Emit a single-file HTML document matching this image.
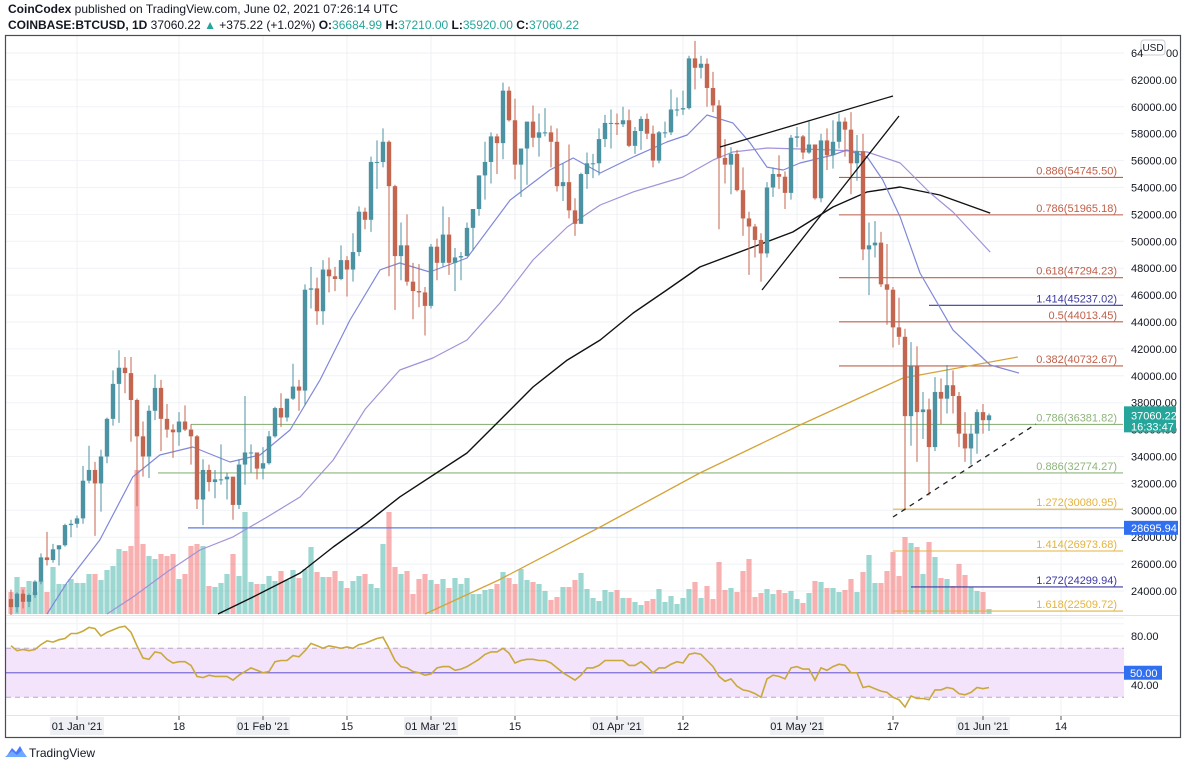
<!DOCTYPE html>
<html><head><meta charset="utf-8">
<style>
html,body{margin:0;padding:0;background:#fff;}
body{width:1186px;height:768px;overflow:hidden;font-family:"Liberation Sans",sans-serif;}
svg{display:block}
text{font-family:"Liberation Sans",sans-serif;}
</style></head>
<body>
<svg id="chart" width="1186" height="768" viewBox="0 0 1186 768" xmlns="http://www.w3.org/2000/svg">
  <rect x="0" y="0" width="1186" height="768" fill="#ffffff"/>
  <text x="8" y="13" font-size="12" fill="#131722"><tspan font-weight="bold">CoinCodex</tspan> published on TradingView.com, June 02, 2021 07:26:14 UTC</text>
  <text x="8" y="29" font-size="12" fill="#131722"><tspan font-weight="bold">COINBASE:BTCUSD, 1D</tspan>  37060.22 <tspan fill="#26a69a">▲</tspan> +375.22 (+1.02%) <tspan font-weight="bold">O:</tspan><tspan fill="#26a69a">36684.99</tspan> <tspan font-weight="bold">H:</tspan><tspan fill="#26a69a">37210.00</tspan> <tspan font-weight="bold">L:</tspan><tspan fill="#26a69a">35920.00</tspan> <tspan font-weight="bold">C:</tspan><tspan fill="#26a69a">37060.22</tspan></text>
  <defs>
    <clipPath id="priceClip"><rect x="6" y="36" width="1118" height="579"/></clipPath>
    <clipPath id="rsiClip"><rect x="6" y="617" width="1118" height="97"/></clipPath>
  </defs>
  <g id="grid"></g>
  <g id="rsiPane" clip-path="url(#rsiClip)"></g>
  <g id="volume" clip-path="url(#priceClip)"></g>
  <g id="fibs"></g>
  <g id="mas" clip-path="url(#priceClip)"></g>
  <g id="candles" clip-path="url(#priceClip)"></g>
  <g id="trend">
    <line x1="720" y1="147" x2="893" y2="96" stroke="#111" stroke-width="1.3"/>
    <line x1="762" y1="290" x2="899" y2="116" stroke="#111" stroke-width="1.3"/>
    <line x1="893" y1="517" x2="1036" y2="424" stroke="#222" stroke-width="1.3" stroke-dasharray="5,5"/>
  </g>
  <g id="axis"></g>
  <g id="timeaxis"></g>
  <rect x="5.5" y="35.5" width="1175" height="702" fill="none" stroke="#4a4c55" stroke-width="1.2"/>
  <line x1="6" y1="615.5" x2="1180" y2="615.5" stroke="#e0e3eb"/>
  <line x1="6" y1="715.5" x2="1180" y2="715.5" stroke="#e0e3eb"/>
  <g>
    <path d="M6 757 L12 748 L16 752 L20 746 L26 757 Z" fill="#2962ff" opacity="0.85"/>
    <path d="M5 757 L12 751 L17 755 L22 750 L27 757 Z" fill="#6ea8ff"/>
    <text x="29" y="757" font-size="12" fill="#131722">TradingView</text>
  </g>
</svg>
<script>
// ---- data ----
const startDay = -11; // Dec 21 2020 relative to Jan 1 2021
const closes = [22800,23800,23200,23700,24700,26500,26300,27100,27400,28900,29000,
29400,32200,33000,32000,34000,36800,39400,40600,40200,38200,35500,34000,37400,39100,36800,36000,35800,36600,36000,35500,30800,33000,32100,32300,32300,32500,30400,33400,34300,34300,33100,
33500,35500,37600,36900,38300,39200,38900,46400,46500,44800,47900,47400,47200,48600,47900,49200,52200,51600,55900,55900,57400,54100,48900,49700,47000,46300,46200,45200,
49600,48400,50500,48400,48800,48900,51000,52400,54900,55900,57800,57300,61200,59000,55700,56900,58900,57700,58100,58100,57400,54100,54400,52300,51300,55000,55800,55800,57600,58800,58800,
58700,59000,57100,58200,59100,58000,56000,58100,58100,59800,59800,59900,63600,62900,63200,61400,60100,56200,55700,56500,53800,51700,51100,50100,49100,54000,55000,54800,53600,57700,
57800,56600,57200,53200,57500,56400,57400,58900,58300,55800,56700,49400,49700,49900,46800,46400,43600,42900,37000,40700,37300,37500,34700,38800,38300,39300,38500,35700,34600,35700,37300,
36700,37060];
const opens = [23400,22800,23800,23200,23700,24700,26500,26300,27100,27400,28900,
29000,29400,32200,33000,32000,34000,36800,39400,40600,40200,38200,35500,34000,37400,39100,36800,36000,35800,36600,36000,35500,30800,33000,32100,32300,32300,32500,30400,33400,34300,34300,
33100,33500,35500,37600,36900,38300,39200,38900,46400,46500,44800,47900,47400,47200,48600,47900,49200,52200,51600,55900,55900,57400,54100,48900,49700,47000,46300,46200,
45200,49600,48400,50500,48400,48800,48900,51000,52400,54900,55900,57800,57300,61200,59000,55700,56900,58900,57700,58100,58100,57400,54100,54400,52300,51300,55000,55800,55800,57600,58800,
58800,58700,59000,57100,58200,59100,58000,56000,58100,58100,59800,59800,59900,63600,62900,63200,61400,60100,56200,55700,56500,53800,51700,51100,50100,49100,54000,55000,54800,53600,
57700,57800,56600,57200,53200,57500,56400,57400,58900,58300,55800,56700,49400,49700,49900,46800,46400,43600,42900,37000,40700,37300,37500,34700,38800,38300,39300,38500,35700,34600,35700,
37300,36700];
const highs = [24100,23900,24100,23800,24800,26800,28400,27500,27400,29000,29300,
29600,33300,34800,33600,34500,36900,40400,41900,41400,41400,38300,36600,37800,40100,39700,37900,36400,37300,37800,36400,35600,33800,33400,33000,34900,32800,32500,33800,38500,34900,34300,
34700,35900,37700,38700,38300,40900,39700,46800,48100,47300,48600,48800,48100,49700,48900,50600,52600,52500,56300,57500,58400,57500,54200,51400,52000,48400,48300,46600,
49800,50200,52600,51800,49500,49200,51400,52400,54900,57400,58100,58000,61800,61500,60600,56900,58900,60100,59500,59900,58600,58400,55800,57200,53200,55100,56600,56500,58400,59400,59800,
59500,60000,59800,58500,59300,59500,58600,58200,58900,61300,60700,61200,63800,64900,63800,63600,62600,60500,57600,57000,56800,55500,52200,51300,50600,54400,55500,56400,55200,57900,
58500,57900,58900,57200,58000,58400,59000,59500,59200,59600,57900,58000,51400,51500,50700,49800,46600,45800,43500,42500,42200,38800,38300,39900,39800,40800,40400,38800,37300,36400,37500,
37900,37200];
const lows = [22000,22400,22700,22800,23500,24500,25900,26100,25900,27300,28000,
28700,29000,32000,28100,29900,33500,36300,36500,38700,35100,30300,32500,32400,36700,34400,35400,33900,34800,35900,33400,30100,28900,31400,30900,31900,30800,29300,30100,31900,32800,32300,
32300,33400,35400,36200,36600,38200,37400,37800,45000,43800,43800,46200,46300,47100,45900,47000,48900,50900,50700,53900,55500,47400,44900,47100,46700,44200,45100,43000,
45000,47100,48100,47500,46300,47100,48900,49300,51900,53100,54300,55000,56100,58900,54600,53300,54200,57000,56300,57800,55500,53700,53000,51700,50400,51300,53900,54700,54900,57000,56900,
57900,58500,57000,56500,56800,57600,55500,55800,57700,57900,59300,59400,59800,61300,62100,60000,59600,50900,54300,53500,53700,50400,47500,48800,47000,48800,53300,53900,52400,53100,
57000,56100,56500,53100,52900,55300,55400,56900,56300,53500,54500,48600,46000,48800,46600,43800,42100,42300,30000,34800,33600,35300,31100,34400,36400,37200,37200,34700,33600,33400,34200,
35700,35900];
const volumes = [22,37,27,33,22,33,22,47,30,30,35,
31,31,40,40,34,44,48,65,63,68,144,70,58,55,60,58,60,35,40,68,70,68,28,27,31,40,60,38,102,32,30,
30,38,33,43,34,44,36,45,67,42,37,37,43,33,26,33,38,40,30,26,70,102,47,40,43,20,35,40,
34,30,35,26,36,30,36,20,20,24,25,30,42,36,30,45,34,32,30,23,14,17,27,27,34,41,25,16,13,24,22,
24,16,16,12,9,13,15,25,12,18,10,16,25,32,16,28,15,52,24,26,22,43,55,17,21,25,20,24,21,23,
15,11,21,33,32,26,26,22,24,35,22,42,59,31,31,43,62,38,77,71,67,40,72,57,36,35,28,50,39,27,23,
22,5];
const rsiValues = [72,68,69,68,69,73,76,75,77,78,82,82,84,87,86,80,83,85,87,88,83,72,62,61,67,66,61,58,59,59,56,47,46,48,47,47,47,44,48,51,54,52,50,51,59,60,60,64,63,68,74,72,70,72,71,70,71,70,73,74,76,78,79,70,60,55,54,51,50,48,49,54,55,55,52,53,55,58,61,65,67,67,70,66,58,60,61,61,60,60,58,54,50,47,44,48,54,54,56,60,60,60,60,56,56,59,55,50,54,54,57,59,58,65,66,65,60,55,47,43,45,39,36,35,33,30,45,48,47,45,54,55,53,53,44,54,52,55,57,56,50,50,38,39,37,35,34,30,28,22,31,29,29,28,36,36,38,37,33,32,34,38,37,38];
// moving averages: [day, price] pairs
const ma20Days = [-5,-1.7,3.8,9.3,13.8,19.3,25.5,30.5,35.5,40.5,45.5,50.5,53.8,58.8,65,72.2,78.8,82.7,87.2,92.7,98.3,101.7,105,109.3,112.2,115,117.7,120.5,126,128.3,131.7,134.3,137.2,140.5,146,152.2,157];
const ma20Vals = [22290,24600,27790,32480,34110,34710,33590,34110,35970,39690,44150,47870,48390,47720,48760,53070,55300,56190,55080,56270,57380,57900,59390,58800,57310,55520,55300,55820,56420,56790,56270,54560,51800,47640,43400,40800,40200];
const ma50Days = [5,9.3,15,20.5,26,31.7,37.2,42.7,48,53.8,59.3,65,70.5,76,81.7,87.2,92.7,101,106,109.3,115,126,131.7,137.2,142.2,146,152.2];
const ma50Vals = [22290,23550,25410,27050,28020,29500,31000,33740,37500,40430,41320,42660,45410,48610,51060,52700,53670,54780,56040,56640,56940,56790,56640,55820,53590,52180,49200];
const ma100Days = [23.5,29.3,37.2,42.7,48.3,53.8,65,70.5,76,81.7,87.2,92.7,98.3,103.8,112.2,119.3,126,131.7,137.2,143.8,152.2];
const ma100Vals = [22290,23550,25340,27270,29060,31000,34260,36710,39170,41170,42660,44670,46380,48090,49500,50690,52550,53670,54040,53440,52100];
const ma200Days = [58,70.3,87.2,103.8,120.5,137.7,156.8];
const ma200Vals = [22290,24820,28760,32770,36340,39840,41400];
const fibLabels = ["0.886(54745.50)","0.786(51965.18)","0.618(47294.23)","1.414(45237.02)","0.5(44013.45)","0.382(40732.67)","0.786(36381.82)","0.886(32774.27)","1.272(30080.95)","1.414(26973.68)","1.272(24299.94)","1.618(22509.72)"];
const fibValues = [54745.50,51965.18,47294.23,45237.02,44013.45,40732.67,36381.82,32774.27,30080.95,26973.68,24299.94,22509.72];
const fibStartDays = [127,127,127,142,127,127,19,13.5,136,136,139,136];
const fibColors = ["#c0604a","#c0604a","#c0604a","#3b3aa0","#c0604a","#c0604a","#8fb47c","#8fb47c","#e3b341","#e3b341","#3b3aa0","#e3b341"];
const priceTicks = [62000,60000,58000,56000,54000,52000,50000,48000,46000,44000,42000,40000,38000,36000,34000,32000,30000,28000,26000,24000];
const rsiTicks = [80,40];
const timeLabels = ["01 Jan '21","18","01 Feb '21","15","01 Mar '21","15","01 Apr '21","12","01 May '21","17","01 Jun '21","14"];
const timeDays = [0,17,31,45,59,73,90,101,120,136,151,164];
const hLineValue = 28695.94;
const lastPrice = 37060.22;

// ---- scales ----
const NS = "http://www.w3.org/2000/svg";
const X = d => 77 + 6 * d;
const Y = p => 53 + (64000 - p) * 0.01345;
const RY = v => 636 + (80 - v) * 1.225;
function mk(tag, attrs, parent){const e=document.createElementNS(NS,tag);for(const k in attrs)e.setAttribute(k,attrs[k]);parent.appendChild(e);return e;}
const grid=document.getElementById('grid'), vol=document.getElementById('volume'), cg=document.getElementById('candles');
const mas=document.getElementById('mas'), fibs=document.getElementById('fibs'), axis=document.getElementById('axis');
const ta=document.getElementById('timeaxis'), rp=document.getElementById('rsiPane');

// grid
priceTicks.concat([64000,22000]).forEach(p=>{const l=mk('line',{x1:6,x2:1124,y1:Y(p),y2:Y(p),stroke:'#f0f2f6'},grid);

});
timeDays.forEach(d=>{const l=mk('line',{x1:X(d),x2:X(d),y1:36,y2:715,stroke:'#eef0f4'},grid);

});
[60,70,80,90].forEach(v=>{const l=mk('line',{x1:6,x2:1124,y1:RY(v),y2:RY(v),stroke:'#f0f2f6'},grid);

});

// RSI
const band=mk('rect',{x:6,y:RY(70),width:1118,height:RY(30)-RY(70),fill:'#f3e3fb'},rp);


[70,30].forEach(v=>{const l=mk('line',{x1:6,x2:1124,y1:RY(v),y2:RY(v),stroke:'#b9a6c4','stroke-dasharray':'5,4'},rp);

});
const mid=mk('line',{x1:6,x2:1124,y1:RY(50),y2:RY(50),stroke:'#7b6fd6','stroke-width':1.2},rp);


const rpts=rsiValues.map((v,i)=>X(startDay+i).toFixed(1)+','+RY(v).toFixed(1)).join(' ');
const rl=mk('polyline',{points:rpts,fill:'none',stroke:'#c9a93a','stroke-width':1.6},rp);



// volume
const volBase=614;
volumes.forEach((v,i)=>{const up=closes[i]>=opens[i];
const r=mk('rect',{x:X(startDay+i)-2.6,y:volBase-v,width:5.2,height:v,fill:up?'rgba(38,166,154,0.45)':'rgba(239,83,80,0.45)'},vol);

});

// fib levels
fibValues.forEach((v,i)=>{const y=Y(v);
const l=mk('line',{x1:X(fibStartDays[i]),x2:1123,y1:y,y2:y,stroke:fibColors[i],'stroke-width':1.1},fibs);


const t=mk('text',{x:1117,y:y-3,'font-size':11,'text-anchor':'end',fill:fibColors[i]},fibs);t.textContent=fibLabels[i];

});
const hl=mk('line',{x1:188,x2:1124,y1:Y(hLineValue),y2:Y(hLineValue),stroke:'#5b7be6','stroke-width':1.3},fibs);



// moving averages
function maLine(days,vals,color,name,w){const pts=days.map((d,i)=>X(d).toFixed(1)+','+Y(vals[i]).toFixed(1)).join(' ');
const p=mk('polyline',{points:pts,fill:'none',stroke:color,'stroke-width':w,'stroke-linejoin':'round'},mas);

}
maLine(ma200Days,ma200Vals,'#d4a43a','ma-200-line',1.3);
maLine(ma100Days,ma100Vals,'#111111','ma-100-line',1.4);
maLine(ma50Days,ma50Vals,'#a292d8','ma-50-line',1.2);
maLine(ma20Days,ma20Vals,'#8088d8','ma-20-line',1.2);

// candles
closes.forEach((c,i)=>{const o=opens[i],x=X(startDay+i),up=c>=o,col=up?'#4b92a3':'#c4654f';
const w=mk('line',{x1:x,x2:x,y1:Y(highs[i]),y2:Y(lows[i]),stroke:col,'stroke-width':1},cg);


const top=Y(Math.max(o,c)),bot=Y(Math.min(o,c));
const b=mk('rect',{x:x-2.2,y:top,width:4.4,height:Math.max(1,bot-top),fill:col},cg);

});

// price axis
const usd=mk('rect',{x:1141,y:40,width:24,height:15,rx:3,fill:'#fff',stroke:'#c8cbd2'},axis);


const ut=mk('text',{x:1153,y:51,'font-size':10,'text-anchor':'middle',fill:'#131722'},axis);ut.textContent='USD';
const t64=mk('text',{x:1131,y:57,'font-size':11,fill:'#131722'},axis);t64.textContent='64';
const t64b=mk('text',{x:1166,y:57,'font-size':11,fill:'#131722'},axis);t64b.textContent='00';
priceTicks.forEach(p=>{const t=mk('text',{x:1131,y:Y(p)+4,'font-size':11,fill:'#131722'},axis);t.textContent=p.toFixed(2);

});
const lpY=Y(lastPrice);
const lp=mk('rect',{x:1124,y:lpY-9,width:52,height:26,fill:'#26a69a'},axis);


const lt=mk('text',{x:1131,y:lpY+4,'font-size':11,fill:'#fff'},axis);lt.textContent=lastPrice.toFixed(2);
const lt2=mk('text',{x:1131,y:lpY+15,'font-size':11,fill:'#fff'},axis);lt2.textContent='16:33:47';
const hY=Y(hLineValue);
const hb=mk('rect',{x:1124,y:hY-7,width:54,height:14,fill:'#2f6ff0'},axis);


const ht=mk('text',{x:1131,y:hY+4,'font-size':11,fill:'#fff'},axis);ht.textContent=hLineValue.toFixed(2);
rsiTicks.forEach(v=>{const t=mk('text',{x:1131,y:RY(v)+4,'font-size':11,fill:'#131722'},axis);t.textContent=v.toFixed(2);

});
const rb=mk('rect',{x:1124,y:RY(50)-7,width:38,height:14,fill:'#2f6ff0'},axis);


const rbt=mk('text',{x:1130,y:RY(50)+4,'font-size':11,fill:'#fff'},axis);rbt.textContent='50.00';

// time axis
timeLabels.forEach((s,i)=>{const x=X(timeDays[i]);const isMonth=s.length>3;
if(isMonth){const bg=mk('rect',{x:x-27,y:717,width:54,height:18,fill:'#eef0f3'},ta);

}
mk('line',{x1:x,x2:x,y1:716,y2:720,stroke:'#555'},ta);
const t=mk('text',{x:x,y:730,'font-size':11,'text-anchor':'middle',fill:'#131722'},ta);t.textContent=s;

});
</script>
</body></html>
